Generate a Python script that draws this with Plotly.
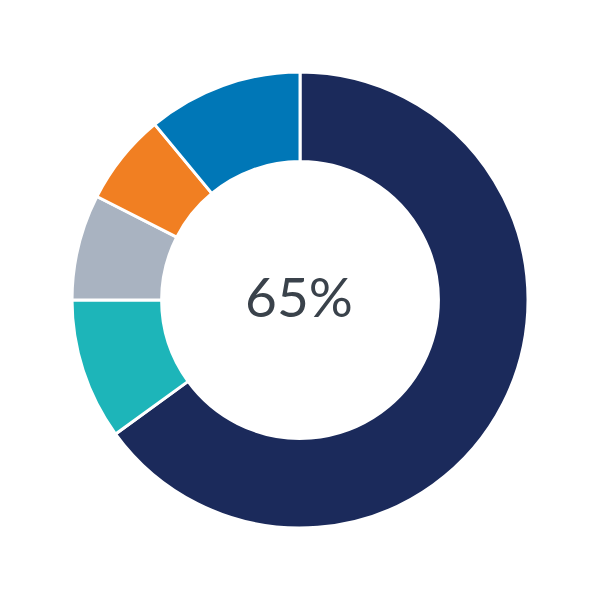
import plotly.graph_objects as go

labels = ["Navy", "Teal", "Gray", "Orange", "Blue"]
values = [65, 10, 7.5, 6.5, 11]
colors = ["#1b2a5b", "#1db5b9", "#a9b3c1", "#f17f22", "#0077b7"]
center_text = "65%"

fig = go.Figure(go.Pie(
    labels=labels,
    values=values,
    hole=0.607,
    sort=False,
    direction="clockwise",
    rotation=0,
    textinfo="none",
    hoverinfo="label+percent",
    marker=dict(colors=colors, line=dict(color="white", width=3)),
    domain=dict(x=[0.1067, 0.8667], y=[0.1333, 0.8933]),
    showlegend=False,
))

fig.add_annotation(
    text=center_text, x=0.485, y=0.52, xref="paper", yref="paper",
    showarrow=False, font=dict(family="Lato", size=55, color="#3a424b"),
)

fig.update_layout(
    width=600, height=600,
    margin=dict(l=0, r=0, t=0, b=0),
    paper_bgcolor="white", plot_bgcolor="white",
)

fig.write_html("out.html")
